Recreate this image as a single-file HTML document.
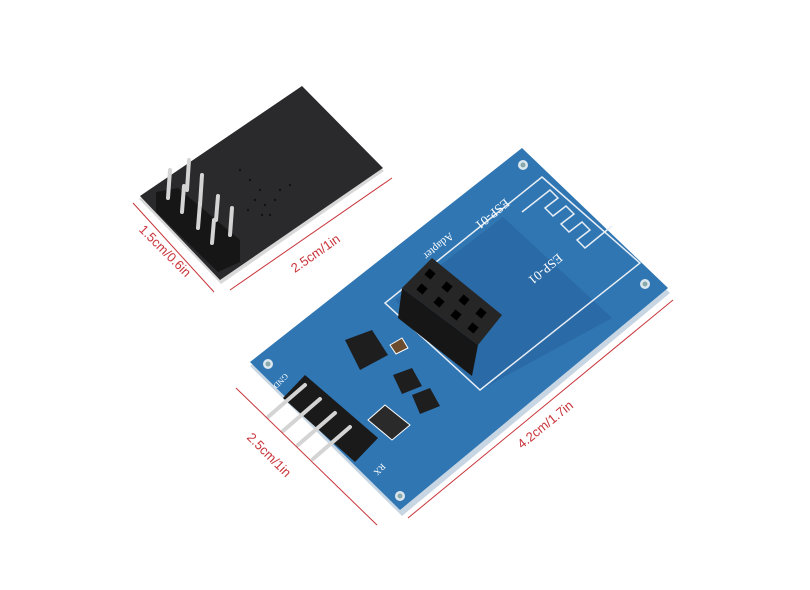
<!DOCTYPE html>
<html><head><style>body{margin:0;background:#fff}svg{display:block}</style></head><body>
<svg width="810" height="590" viewBox="0 0 810 590" xmlns="http://www.w3.org/2000/svg" font-family="Liberation Sans, sans-serif">
<rect width="810" height="590" fill="#fff"/>
<polygon points="302,88 384,171 221,284 139,199" fill="#d8d8d8"/>
<polygon points="302,86 383,168 220,280 140,196" fill="#2a2a2c"/>
<g fill="#111">
<circle cx="240" cy="170" r="1.2"/><circle cx="250" cy="180" r="1.2"/><circle cx="260" cy="190" r="1.2"/><circle cx="255" cy="200" r="1.2"/><circle cx="265" cy="205" r="1.2"/><circle cx="275" cy="200" r="1.2"/><circle cx="270" cy="215" r="1.2"/><circle cx="280" cy="190" r="1.2"/><circle cx="290" cy="185" r="1.2"/><circle cx="262" cy="215" r="1.2"/><circle cx="248" cy="210" r="1.2"/>
</g>
<polygon points="156,192 178,188 240,240 240,262 218,272 156,212" fill="#161616"/>
<g stroke="#d4d4d4" stroke-width="4" stroke-linecap="round">
<line x1="168" y1="198" x2="170" y2="170"/><line x1="187" y1="190" x2="189" y2="160"/>
<line x1="182" y1="212" x2="184" y2="186"/><line x1="200" y1="205" x2="202" y2="175"/>
<line x1="198" y1="228" x2="200" y2="203"/><line x1="216" y1="220" x2="218" y2="196"/>
<line x1="212" y1="243" x2="214" y2="220"/><line x1="230" y1="235" x2="232" y2="208"/>
</g>
<polygon points="522,152 670,293 402,516 250,366" fill="#c7d6e2"/>
<polygon points="522,148 668,288 400,510 250,362" fill="#2f76b3"/>
<polygon points="503,217 612,318 480,390 395,300" fill="#2a6aa6"/>
<polygon points="542,177 640,263 480,390 385,303" fill="none" stroke="#e8eef5" stroke-width="1.5"/>
<polyline points="522,212 550,190 558,198 545,208 553,216 566,206 574,214 561,224 569,232 582,222 590,230 577,240 585,248 612,226" fill="none" stroke="#e8eef5" stroke-width="1.5"/>
<g fill="#dce6ef"><circle cx="523" cy="165" r="5"/><circle cx="645" cy="284" r="5"/><circle cx="400" cy="496" r="5"/><circle cx="268" cy="364" r="5"/></g>
<g fill="#8aa"><circle cx="523" cy="165" r="2.5"/><circle cx="645" cy="284" r="2.5"/><circle cx="400" cy="496" r="2.5"/><circle cx="268" cy="364" r="2.5"/></g>
<g fill="#fff" font-family="Liberation Serif, serif">
<text font-size="13" transform="translate(505,198) rotate(140)">ESP-01</text>
<text font-size="13" transform="translate(558,253) rotate(140)">ESP-01</text>
<text font-size="11" transform="translate(450,232) rotate(140)">Adapter</text>
<text font-size="8" transform="translate(285,373) rotate(135)">GND</text>
<text font-size="9" transform="translate(382,463) rotate(135)">RX</text>
</g>
<polygon points="402,288 478,345 472,376 398,318" fill="#161616"/>
<polygon points="432,258 502,315 478,345 402,288" fill="#262626"/>
<g fill="#000">
<rect x="426" y="270" width="8" height="8" transform="rotate(40 430 274)"/><rect x="443" y="283" width="8" height="8" transform="rotate(40 447 287)"/>
<rect x="460" y="296" width="8" height="8" transform="rotate(40 464 300)"/><rect x="477" y="309" width="8" height="8" transform="rotate(40 481 313)"/>
<rect x="418" y="285" width="8" height="8" transform="rotate(40 422 289)"/><rect x="435" y="298" width="8" height="8" transform="rotate(40 439 302)"/>
<rect x="452" y="311" width="8" height="8" transform="rotate(40 456 315)"/><rect x="469" y="324" width="8" height="8" transform="rotate(40 473 328)"/>
</g>
<polygon points="345,340 372,330 388,355 360,370" fill="#1e1e1e"/>
<polygon points="393,375 412,368 422,386 402,394" fill="#1e1e1e"/>
<polygon points="412,395 430,388 440,406 420,414" fill="#1e1e1e"/>
<polygon points="368,420 385,405 410,425 392,440" fill="#2a2a2a" stroke="#fff"/>
<polygon points="390,345 402,338 408,348 396,354" fill="#6b4c2e" stroke="#fff"/>
<polygon points="305,375 378,438 355,462 283,398" fill="#1a1a1a"/>
<g stroke="#d4d4d4" stroke-width="4" stroke-linecap="round">
<line x1="305" y1="385" x2="268" y2="417"/><line x1="320" y1="399" x2="283" y2="431"/>
<line x1="335" y1="413" x2="298" y2="445"/><line x1="350" y1="427" x2="313" y2="459"/>
</g>
<g stroke="#c8343a" stroke-width="1" fill="none">
<line x1="133" y1="203" x2="214" y2="292"/>
<line x1="230" y1="290" x2="392" y2="178"/>
<line x1="236" y1="388" x2="377" y2="525"/>
<line x1="408" y1="518" x2="673" y2="300"/>
</g>
<g fill="#c8343a" font-size="13">
<text text-anchor="middle" transform="translate(162,254) rotate(45)">1.5cm/0.6in</text>
<text text-anchor="middle" transform="translate(318,257) rotate(-35)">2.5cm/1in</text>
<text text-anchor="middle" transform="translate(266,458) rotate(45)">2.5cm/1in</text>
<text text-anchor="middle" transform="translate(548,428) rotate(-39)">4.2cm/1.7in</text>
</g>
</svg>
</body></html>
